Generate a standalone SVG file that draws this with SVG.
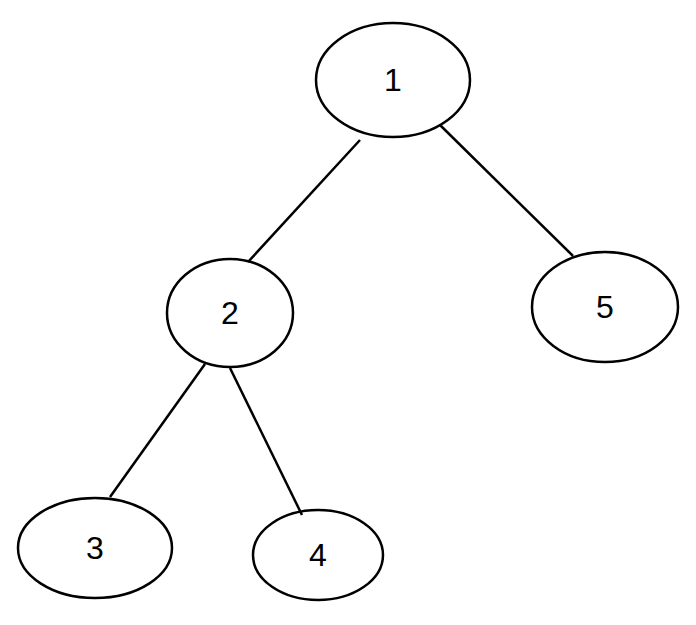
<svg xmlns="http://www.w3.org/2000/svg" width="696" height="625" viewBox="0 0 696 625">
<style>
.n{fill:none;stroke:#000;stroke-width:2.5}
.e{stroke:#000;stroke-width:2.5;fill:none}
text{font-family:"Liberation Sans",sans-serif;font-size:32px;text-anchor:middle;dominant-baseline:central;fill:#000}
</style>
<rect width="696" height="625" fill="#fff"/>
<g id="connectors">
<line class="e" x1="360" y1="140" x2="248" y2="262"/>
<line class="e" x1="440" y1="125" x2="573" y2="256"/>
<line class="e" x1="205" y1="364" x2="110" y2="497"/>
<line class="e" x1="230" y1="368" x2="302" y2="515"/>
</g>
<g id="n1"><ellipse class="n" cx="393" cy="80" rx="77" ry="57"/><text x="393" y="80">1</text></g>
<g id="n2"><ellipse class="n" cx="230" cy="313" rx="63" ry="54"/><text x="230" y="313">2</text></g>
<g id="n5"><ellipse class="n" cx="605" cy="307" rx="73" ry="55"/><text x="605" y="307">5</text></g>
<g id="n3"><ellipse class="n" cx="95" cy="548" rx="77" ry="50"/><text x="95" y="548">3</text></g>
<g id="n4"><ellipse class="n" cx="318" cy="555" rx="65" ry="45"/><text x="318" y="555">4</text></g>
</svg>
